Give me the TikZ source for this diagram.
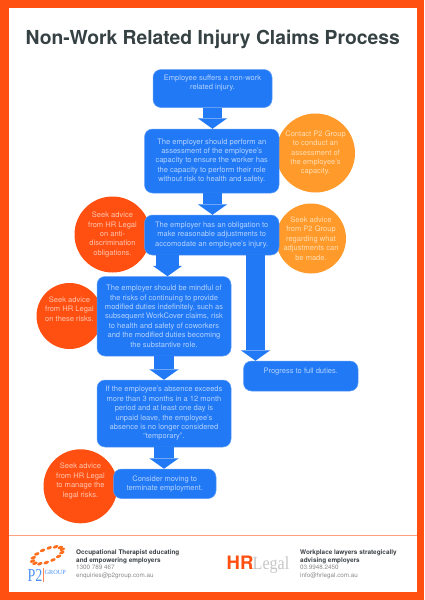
\documentclass[tikz,border=0pt]{standalone}
\usepackage{fontspec}
\setmainfont{TeX Gyre Heros}
\newfontfamily\logoserif{Liberation Serif}
\usetikzlibrary{arrows.meta}
\definecolor{frameorange}{HTML}{FF5012}
\definecolor{boxblue}{HTML}{2179F5}
\definecolor{boxedge}{HTML}{5C9CF8}
\definecolor{amber}{HTML}{FF9A2B}
\definecolor{titlegrey}{HTML}{364144}
\definecolor{bluetext}{HTML}{B4D2FF}
\definecolor{ambertext}{HTML}{FFDDB0}
\definecolor{redtext}{HTML}{FFC4AC}
\definecolor{footgrey}{HTML}{8A8A8A}
\definecolor{footdark}{HTML}{3A3F44}
\definecolor{logoblue}{HTML}{4A90F0}
\tikzset{
  flowbox/.style={rectangle,rounded corners=8pt,fill=boxblue,draw=boxedge,line width=.5pt,
    inner sep=0pt,align=center,text=bluetext,font=\fontsize{7.55}{9.4}\selectfont},
  bubble/.style={circle,inner sep=-10pt,align=center,font=\fontsize{7.55}{9.4}\selectfont},
  amberbubble/.style={bubble,fill=amber,text=ambertext},
  redbubble/.style={bubble,fill=frameorange,text=redtext},
  blockarrow/.style={draw=boxblue,line width=#1,
    -{Triangle[length=10.5pt,width=29.5pt,line width=0pt,fill=boxblue]}},
  footbold/.style={anchor=north west,inner sep=0pt,align=left,text=footdark,
    font=\fontsize{6.4}{7.8}\selectfont\bfseries},
  footplain/.style={anchor=north west,inner sep=0pt,align=left,text=footgrey,
    font=\fontsize{6.3}{7.9}\selectfont},
}
\begin{document}
\begin{tikzpicture}[x=1pt,y=-1pt]
\useasboundingbox (0,0) rectangle (424,600);
\fill[frameorange] (0,0) rectangle (424,600);
\fill[white] (8.5,8) rectangle (416.5,591.7);
\node[inner sep=0pt,text=titlegrey,font=\fontsize{19.3}{24}\selectfont\bfseries] (title) at (212.7,39) {Non-Work Related Injury Claims Process};

% side bubbles
\node[amberbubble,minimum size=79pt] (c1) at (315.5,153) {Contact P2 Group\\to conduct an\\assessment of\\the employee's\\capacity.};
\node[amberbubble,minimum size=70pt] (c2) at (311,238.5) {Seek advice\\from P2 Group\\regarding what\\adjustments can\\be made.};
\node[redbubble,minimum size=76pt] (r1) at (112.5,234.5) {Seek advice\\from HR Legal\\on anti-\\discrimination\\obligations.};
\node[redbubble,minimum size=66pt] (r2) at (69.5,316) {Seek advice\\from HR Legal\\on these risks.\\[5pt]\mbox{}};
\node[redbubble,minimum size=74pt] (r3) at (80.5,486.3) {Seek advice\\from HR Legal\\to manage the\\legal risks.\\[3pt]\mbox{}};

% process boxes
\node[flowbox,minimum width=119pt,minimum height=38pt] (b1) at (212.5,88.5) {Employee suffers a non-work\\related injury.\\[3pt]\mbox{}};
\node[flowbox,minimum width=134.5pt,minimum height=64pt] (b2) at (211.75,161) {The employer should perform an\\assessment of the employee's\\capacity to ensure the worker has\\the capacity to perform their role\\without risk to health and safety.};
\node[flowbox,minimum width=134.5pt,minimum height=40pt] (b3) at (211.75,235) {The employer has an obligation to\\make reasonable adjustments to\\accomodate an employee's injury.};
\node[flowbox,minimum width=134pt,minimum height=79.5pt] (b4) at (164,316.25) {The employer should be mindful of\\the risks of continuing to provide\\modified duties indefinitely, such as\\subsequent WorkCover claims, risk\\to health and safety of coworkers\\and the modified duties becoming\\the substantive role.};
\node[flowbox,minimum width=114.5pt,minimum height=30pt] (b5) at (300.75,376) {Progress to full duties.\\[2pt]\mbox{}};
\node[flowbox,minimum width=134pt,minimum height=67pt] (b6) at (164,413.5) {If the employee's absence exceeds\\more than 3 months in a 12 month\\period and at least one day is\\unpaid leave, the employee's\\absence is no longer considered\\``temporary''.};
\node[flowbox,minimum width=102.5pt,minimum height=29.5pt] (b7) at (164.75,483.75) {Consider moving to\\terminate employment.};

% block arrows
\coordinate (xa) at (212.5,0);
\coordinate (xb) at (167.5,0);
\coordinate (xc) at (255.5,0);
\coordinate (xd) at (164,0);
\draw[blockarrow=19.5pt] (b1.south -| xa) -- (b2.north -| xa);
\draw[blockarrow=19.5pt] (b2.south -| xa) -- (b3.north -| xa);
\draw[blockarrow=23pt] (b3.south -| xb) -- (b4.north -| xb);
\draw[blockarrow=19.5pt] (b3.south -| xc) -- (b5.north -| xc);
\draw[blockarrow=20pt] (b4.south -| xd) -- (b6.north -| xd);
\draw[blockarrow=20pt] (b6.south -| xd) -- (b7.north -| xd);

% footer
\draw[draw=frameorange!55!white,line width=.6pt] (8.5,535.3) -- (416.5,535.3);
\begin{scope}[shift={(47.5,555.3)},rotate=22]
  \foreach \a in {0,26,...,340}
    \fill[frameorange!60!amber] ({16*cos(\a)},{6.5*sin(\a)}) ellipse[x radius=2.8pt,y radius=1.5pt];
\end{scope}
\node[inner sep=0pt,anchor=base west,text=logoblue,font=\logoserif\fontsize{14}{14}\selectfont] (p2) at (27.3,581) {\scalebox{1}[1.3]{P2}};
\draw[frameorange!70!white,line width=.4pt] (42.8,568) -- (42.8,581.5);
\node[inner sep=0pt,anchor=base west,text=logoblue,font=\logoserif\fontsize{6.3}{7}\selectfont] (grp) at (44.3,574.5) {GROUP};
\node[footbold] (ft1) at (76,549.5) {Occupational Therapist educating\\and empowering employers};
\node[footplain] (ft2) at (76,565.3) {1300 789 467\\enquiries@p2group.com.au};
\node[inner sep=0pt,anchor=base west,text=frameorange,font=\fontsize{18.5}{20}\selectfont\bfseries] (hr) at (226.5,569) {HR};
\node[inner sep=0pt,anchor=base west,text=black!22,font=\logoserif\fontsize{18.5}{20}\selectfont] (lg) at (252.5,569) {\scalebox{.87}[1]{Legal}};
\node[footbold] (ft3) at (300,549.5) {Workplace lawyers strategically\\advising employers};
\node[footplain] (ft4) at (300,565.3) {03.9948.2450\\info@hrlegal.com.au};
\end{tikzpicture}
\end{document}
